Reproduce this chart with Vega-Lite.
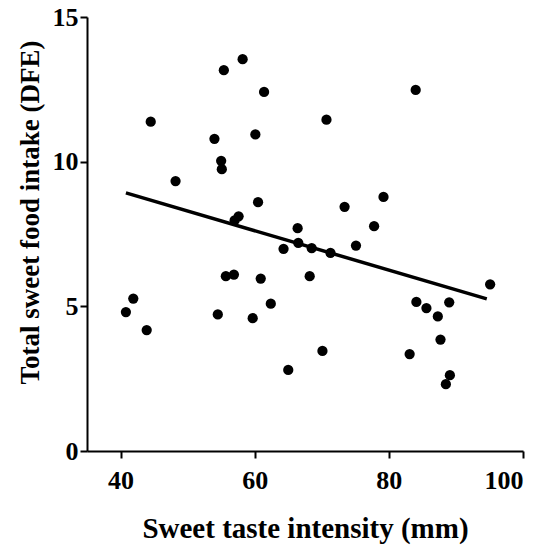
{
  "$schema": "https://vega.github.io/schema/vega-lite/v6.json",
  "autosize": "none",
  "width": 436,
  "height": 434,
  "padding": {"left": 87, "top": 17, "right": 27, "bottom": 99},
  "background": "white",
  "config": {
    "view": {"stroke": null},
    "font": "Liberation Serif",
    "axis": {
      "domainColor": "black", "domainWidth": 2, "tickColor": "black", "tickWidth": 2, "tickSize": 7,
      "grid": false, "labelFont": "Liberation Serif", "labelFontWeight": "bold", "labelFontSize": 26,
      "labelColor": "black", "titleFont": "Liberation Serif", "titleFontWeight": "bold", "titleFontSize": 27,
      "titleColor": "black"
    }
  },
  "datasets": {
    "points": [
      {"taste": 58.2, "intake": 13.54}, {"taste": 55.4, "intake": 13.16}, {"taste": 61.4, "intake": 12.41},
      {"taste": 44.5, "intake": 11.38}, {"taste": 54.0, "intake": 10.79}, {"taste": 60.1, "intake": 10.94},
      {"taste": 55.0, "intake": 10.03}, {"taste": 55.1, "intake": 9.74}, {"taste": 48.2, "intake": 9.33},
      {"taste": 60.5, "intake": 8.60}, {"taste": 57.6, "intake": 8.11}, {"taste": 57.0, "intake": 7.97},
      {"taste": 66.4, "intake": 7.70}, {"taste": 84.0, "intake": 12.48}, {"taste": 70.7, "intake": 11.45},
      {"taste": 79.2, "intake": 8.78}, {"taste": 73.4, "intake": 8.44}, {"taste": 77.8, "intake": 7.77},
      {"taste": 66.5, "intake": 7.19}, {"taste": 68.5, "intake": 7.01}, {"taste": 64.3, "intake": 6.99},
      {"taste": 55.7, "intake": 6.04}, {"taste": 56.9, "intake": 6.10}, {"taste": 60.9, "intake": 5.96},
      {"taste": 68.2, "intake": 6.04}, {"taste": 41.9, "intake": 5.27}, {"taste": 40.8, "intake": 4.80},
      {"taste": 43.9, "intake": 4.18}, {"taste": 54.5, "intake": 4.72}, {"taste": 59.7, "intake": 4.59},
      {"taste": 62.4, "intake": 5.09}, {"taste": 65.0, "intake": 2.80}, {"taste": 71.3, "intake": 6.85},
      {"taste": 75.1, "intake": 7.10}, {"taste": 95.1, "intake": 5.76}, {"taste": 84.1, "intake": 5.15},
      {"taste": 85.6, "intake": 4.94}, {"taste": 89.0, "intake": 5.14}, {"taste": 87.3, "intake": 4.65},
      {"taste": 87.7, "intake": 3.85}, {"taste": 70.1, "intake": 3.46}, {"taste": 83.1, "intake": 3.35},
      {"taste": 89.1, "intake": 2.62}, {"taste": 88.5, "intake": 2.31}
    ],
    "fit": [
      {"taste": 40.8, "intake": 8.92}, {"taste": 94.6, "intake": 5.26}
    ]
  },
  "layer": [
    {
      "data": {"name": "fit"},
      "mark": {"type": "line", "color": "black", "strokeWidth": 3.5},
      "encoding": {
        "x": {"field": "taste", "type": "quantitative"},
        "y": {"field": "intake", "type": "quantitative"}
      }
    },
    {
      "data": {"name": "points"},
      "mark": {"type": "circle", "color": "black", "opacity": 1, "size": 105},
      "encoding": {
        "x": {
          "field": "taste", "type": "quantitative",
          "scale": {"domain": [35, 100], "nice": false, "zero": false},
          "axis": {"values": [40, 60, 80, 100], "title": "Sweet taste intensity (mm)", "labelPadding": 9,
                   "titleFontSize": 29, "titleBaseline": "alphabetic", "titleY": 86}
        },
        "y": {
          "field": "intake", "type": "quantitative",
          "scale": {"domain": [0, 15], "nice": false},
          "axis": {"values": [0, 5, 10, 15], "title": "Total sweet food intake (DFE)", "labelPadding": 2,
                   "titleBaseline": "alphabetic", "titleX": -49, "titleY": 195, "titleAngle": -90}
        }
      }
    }
  ]
}
